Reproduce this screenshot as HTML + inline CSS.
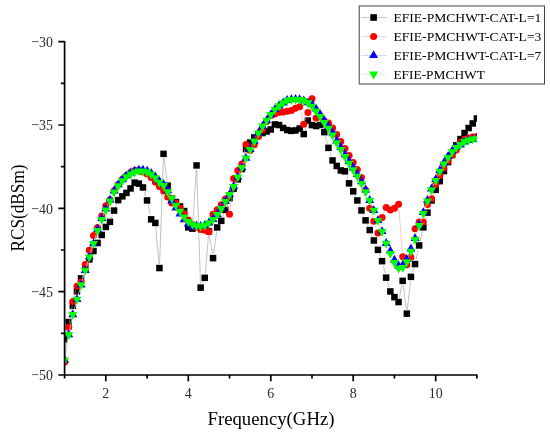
<!DOCTYPE html><html><head><meta charset="utf-8"><title>RCS</title><style>html,body{margin:0;padding:0;background:#fff}svg{display:block}</style></head><body><svg width="550" height="433" viewBox="0 0 550 433">
<rect width="550" height="433" fill="#fff"/>
<defs><clipPath id="c"><rect x="64.4" y="0" width="412.6" height="375.0"/></clipPath></defs>
<g clip-path="url(#c)">
<path fill="none" stroke="#999999" stroke-width="0.6" d="M65.6,335.2L67.7,326.1 M69.8,317.9L71.8,310.0 M74.0,301.9L75.8,295.4 M78.2,287.4L79.8,282.3 M82.7,274.4L83.6,272.4 M87.0,264.7L87.6,263.3 M91.2,255.7L91.6,254.8 M111.4,217.9L112.6,214.5 M115.6,206.7L116.7,204.1 M144.2,191.5L145.8,196.5 M148.0,204.6L150.3,215.2 M155.7,227.1L159.0,263.8 M159.6,263.8L163.4,158.0 M164.1,158.0L167.1,181.5 M168.9,189.7L170.5,194.7 M185.2,215.1L187.3,223.2 M192.7,224.5L196.3,169.7 M196.7,169.7L200.5,283.5 M202.3,283.8L203.2,281.8 M205.2,273.7L208.5,235.5 M209.5,235.5L212.4,253.9 M213.6,253.9L216.6,231.7 M222.8,216.9L223.9,213.8 M226.8,205.9L228.1,202.2 M231.2,194.3L232.0,192.6 M235.3,184.9L236.1,183.1 M239.3,175.4L240.3,172.9 M242.7,164.9L245.2,153.1 M305.0,130.0L306.6,124.6 M325.4,136.3L327.4,143.7 M329.8,151.8L331.3,156.4 M346.3,175.3L347.7,179.3 M354.9,195.1L355.6,196.6 M358.9,204.3L359.9,206.5 M363.1,214.3L364.0,216.4 M367.2,224.2L368.1,226.1 M371.2,233.9L372.3,236.5 M375.5,244.2L376.3,246.0 M379.4,253.7L380.6,257.2 M383.1,265.2L385.2,273.6 M387.4,281.7L389.1,287.5 M399.4,297.9L401.9,284.9 M403.2,285.0L406.3,309.4 M407.3,309.4L410.5,281.0 M412.2,272.8L413.8,268.0 M416.0,259.9L418.3,249.6 M420.1,241.4L422.4,231.4 M424.4,223.3L426.3,216.7 M428.8,208.7L430.2,204.4 M433.1,196.5L434.1,193.7 M437.5,186.0L438.0,185.0 M441.4,177.3L442.3,174.9 M445.7,167.2L446.3,165.8 M453.8,151.1L454.6,149.2"/><g fill="#000"><rect x="61.3" y="336.1" width="6.5" height="6.5"/><rect x="65.5" y="318.8" width="6.5" height="6.5"/><rect x="69.6" y="302.6" width="6.5" height="6.5"/><rect x="73.7" y="288.1" width="6.5" height="6.5"/><rect x="77.8" y="275.1" width="6.5" height="6.5"/><rect x="82.0" y="265.2" width="6.5" height="6.5"/><rect x="86.1" y="256.2" width="6.5" height="6.5"/><rect x="90.2" y="247.8" width="6.5" height="6.5"/><rect x="94.3" y="239.7" width="6.5" height="6.5"/><rect x="98.5" y="231.7" width="6.5" height="6.5"/><rect x="102.6" y="223.7" width="6.5" height="6.5"/><rect x="106.7" y="218.6" width="6.5" height="6.5"/><rect x="110.8" y="207.3" width="6.5" height="6.5"/><rect x="114.9" y="196.9" width="6.5" height="6.5"/><rect x="119.1" y="193.1" width="6.5" height="6.5"/><rect x="123.2" y="189.7" width="6.5" height="6.5"/><rect x="127.3" y="185.2" width="6.5" height="6.5"/><rect x="131.4" y="179.4" width="6.5" height="6.5"/><rect x="135.6" y="180.4" width="6.5" height="6.5"/><rect x="139.7" y="184.2" width="6.5" height="6.5"/><rect x="143.8" y="197.2" width="6.5" height="6.5"/><rect x="147.9" y="216.1" width="6.5" height="6.5"/><rect x="152.1" y="219.7" width="6.5" height="6.5"/><rect x="156.2" y="264.8" width="6.5" height="6.5"/><rect x="160.3" y="150.6" width="6.5" height="6.5"/><rect x="164.4" y="182.4" width="6.5" height="6.5"/><rect x="168.5" y="195.4" width="6.5" height="6.5"/><rect x="172.7" y="198.8" width="6.5" height="6.5"/><rect x="176.8" y="203.2" width="6.5" height="6.5"/><rect x="180.9" y="207.8" width="6.5" height="6.5"/><rect x="185.0" y="224.1" width="6.5" height="6.5"/><rect x="189.2" y="225.4" width="6.5" height="6.5"/><rect x="193.3" y="162.2" width="6.5" height="6.5"/><rect x="197.4" y="284.4" width="6.5" height="6.5"/><rect x="201.5" y="274.6" width="6.5" height="6.5"/><rect x="205.7" y="228.1" width="6.5" height="6.5"/><rect x="209.8" y="254.9" width="6.5" height="6.5"/><rect x="213.9" y="224.2" width="6.5" height="6.5"/><rect x="218.0" y="217.6" width="6.5" height="6.5"/><rect x="222.1" y="206.7" width="6.5" height="6.5"/><rect x="226.3" y="194.9" width="6.5" height="6.5"/><rect x="230.4" y="185.4" width="6.5" height="6.5"/><rect x="234.5" y="176.1" width="6.5" height="6.5"/><rect x="238.6" y="165.8" width="6.5" height="6.5"/><rect x="242.8" y="145.8" width="6.5" height="6.5"/><rect x="246.9" y="139.3" width="6.5" height="6.5"/><rect x="251.0" y="134.2" width="6.5" height="6.5"/><rect x="255.1" y="131.2" width="6.5" height="6.5"/><rect x="259.3" y="129.8" width="6.5" height="6.5"/><rect x="263.4" y="128.2" width="6.5" height="6.5"/><rect x="267.5" y="126.2" width="6.5" height="6.5"/><rect x="271.6" y="121.2" width="6.5" height="6.5"/><rect x="275.7" y="121.8" width="6.5" height="6.5"/><rect x="279.9" y="124.7" width="6.5" height="6.5"/><rect x="284.0" y="126.8" width="6.5" height="6.5"/><rect x="288.1" y="127.6" width="6.5" height="6.5"/><rect x="292.2" y="127.2" width="6.5" height="6.5"/><rect x="296.4" y="125.3" width="6.5" height="6.5"/><rect x="300.5" y="130.8" width="6.5" height="6.5"/><rect x="304.6" y="117.3" width="6.5" height="6.5"/><rect x="308.7" y="121.8" width="6.5" height="6.5"/><rect x="312.9" y="122.8" width="6.5" height="6.5"/><rect x="317.0" y="121.7" width="6.5" height="6.5"/><rect x="321.1" y="128.9" width="6.5" height="6.5"/><rect x="325.2" y="144.6" width="6.5" height="6.5"/><rect x="329.3" y="157.2" width="6.5" height="6.5"/><rect x="333.5" y="162.7" width="6.5" height="6.5"/><rect x="337.6" y="167.2" width="6.5" height="6.5"/><rect x="341.7" y="168.1" width="6.5" height="6.5"/><rect x="345.8" y="180.1" width="6.5" height="6.5"/><rect x="350.0" y="188.1" width="6.5" height="6.5"/><rect x="354.1" y="197.2" width="6.5" height="6.5"/><rect x="358.2" y="207.2" width="6.5" height="6.5"/><rect x="362.3" y="217.1" width="6.5" height="6.5"/><rect x="366.5" y="226.8" width="6.5" height="6.5"/><rect x="370.6" y="237.2" width="6.5" height="6.5"/><rect x="374.7" y="246.6" width="6.5" height="6.5"/><rect x="378.8" y="257.9" width="6.5" height="6.5"/><rect x="382.9" y="274.4" width="6.5" height="6.5"/><rect x="387.1" y="288.2" width="6.5" height="6.5"/><rect x="391.2" y="293.9" width="6.5" height="6.5"/><rect x="395.3" y="298.8" width="6.5" height="6.5"/><rect x="399.4" y="277.6" width="6.5" height="6.5"/><rect x="403.6" y="310.4" width="6.5" height="6.5"/><rect x="407.7" y="273.6" width="6.5" height="6.5"/><rect x="411.8" y="260.8" width="6.5" height="6.5"/><rect x="415.9" y="242.2" width="6.5" height="6.5"/><rect x="420.1" y="224.1" width="6.5" height="6.5"/><rect x="424.2" y="209.4" width="6.5" height="6.5"/><rect x="428.3" y="197.2" width="6.5" height="6.5"/><rect x="432.4" y="186.6" width="6.5" height="6.5"/><rect x="436.5" y="177.9" width="6.5" height="6.5"/><rect x="440.7" y="167.8" width="6.5" height="6.5"/><rect x="444.8" y="158.8" width="6.5" height="6.5"/><rect x="448.9" y="151.8" width="6.5" height="6.5"/><rect x="453.0" y="142.1" width="6.5" height="6.5"/><rect x="457.2" y="135.8" width="6.5" height="6.5"/><rect x="461.3" y="129.8" width="6.5" height="6.5"/><rect x="465.4" y="124.8" width="6.5" height="6.5"/><rect x="469.5" y="120.2" width="6.5" height="6.5"/><rect x="473.6" y="115.2" width="6.5" height="6.5"/></g>
<path fill="none" stroke="#ffa0a0" stroke-width="0.6" d="M65.1,357.8L68.2,331.4 M69.4,323.1L72.2,305.6 M73.9,297.4L75.9,290.4 M82.1,277.8L84.2,268.6 M86.4,260.5L88.2,254.2 M90.5,246.2L92.3,239.6 M99.0,223.5L100.3,220.0 M103.3,212.1L104.3,209.7 M111.7,195.9L112.3,194.5 M209.9,227.7L212.1,218.3 M226.5,203.0L228.4,210.2 M230.0,210.1L233.2,182.7 M242.8,159.9L245.1,148.5 M264.4,125.9L264.8,125.2 M300.6,110.9L302.8,120.2 M305.1,120.3L306.5,116.6 M309.1,108.6L310.8,102.8 M312.9,102.9L315.2,113.9 M362.8,181.5L364.3,186.0 M366.5,194.1L368.8,204.1 M371.0,212.2L372.6,217.3 M375.2,225.3L376.5,228.9 M379.0,228.8L381.0,221.7 M383.7,213.7L384.6,211.4 M398.9,208.5L402.4,252.5 M411.5,253.0L414.5,232.9 M424.3,217.9L426.5,208.6 M432.7,194.7L434.5,188.6 M437.4,180.8L438.1,179.3"/><g fill="#ff0000"><circle cx="64.6" cy="362.0" r="3.5"/><circle cx="68.7" cy="327.2" r="3.5"/><circle cx="72.8" cy="301.5" r="3.5"/><circle cx="77.0" cy="286.3" r="3.5"/><circle cx="81.1" cy="281.9" r="3.5"/><circle cx="85.2" cy="264.5" r="3.5"/><circle cx="89.3" cy="250.2" r="3.5"/><circle cx="93.5" cy="235.6" r="3.5"/><circle cx="97.6" cy="227.5" r="3.5"/><circle cx="101.7" cy="216.0" r="3.5"/><circle cx="105.8" cy="205.8" r="3.5"/><circle cx="110.0" cy="199.7" r="3.5"/><circle cx="114.1" cy="190.7" r="3.5"/><circle cx="118.2" cy="184.4" r="3.5"/><circle cx="122.3" cy="179.3" r="3.5"/><circle cx="126.4" cy="175.4" r="3.5"/><circle cx="130.6" cy="172.5" r="3.5"/><circle cx="134.7" cy="170.6" r="3.5"/><circle cx="138.8" cy="170.3" r="3.5"/><circle cx="142.9" cy="172.0" r="3.5"/><circle cx="147.1" cy="174.0" r="3.5"/><circle cx="151.2" cy="177.5" r="3.5"/><circle cx="155.3" cy="182.0" r="3.5"/><circle cx="159.4" cy="186.5" r="3.5"/><circle cx="163.6" cy="191.0" r="3.5"/><circle cx="167.7" cy="197.0" r="3.5"/><circle cx="171.8" cy="203.0" r="3.5"/><circle cx="175.9" cy="203.0" r="3.5"/><circle cx="180.0" cy="208.0" r="3.5"/><circle cx="184.2" cy="213.5" r="3.5"/><circle cx="188.3" cy="220.0" r="3.5"/><circle cx="192.4" cy="224.5" r="3.5"/><circle cx="196.5" cy="227.5" r="3.5"/><circle cx="200.7" cy="229.6" r="3.5"/><circle cx="204.8" cy="230.2" r="3.5"/><circle cx="208.9" cy="231.8" r="3.5"/><circle cx="213.0" cy="214.2" r="3.5"/><circle cx="217.2" cy="209.8" r="3.5"/><circle cx="221.3" cy="204.7" r="3.5"/><circle cx="225.4" cy="198.9" r="3.5"/><circle cx="229.5" cy="214.3" r="3.5"/><circle cx="233.6" cy="178.5" r="3.5"/><circle cx="237.8" cy="170.5" r="3.5"/><circle cx="241.9" cy="164.0" r="3.5"/><circle cx="246.0" cy="144.4" r="3.5"/><circle cx="250.1" cy="150.5" r="3.5"/><circle cx="254.3" cy="144.7" r="3.5"/><circle cx="258.4" cy="136.5" r="3.5"/><circle cx="262.5" cy="129.7" r="3.5"/><circle cx="266.6" cy="121.4" r="3.5"/><circle cx="270.8" cy="115.5" r="3.5"/><circle cx="274.9" cy="114.1" r="3.5"/><circle cx="279.0" cy="112.6" r="3.5"/><circle cx="283.1" cy="111.9" r="3.5"/><circle cx="287.2" cy="111.2" r="3.5"/><circle cx="291.4" cy="110.5" r="3.5"/><circle cx="295.5" cy="108.3" r="3.5"/><circle cx="299.6" cy="106.8" r="3.5"/><circle cx="303.7" cy="124.3" r="3.5"/><circle cx="307.9" cy="112.6" r="3.5"/><circle cx="312.0" cy="98.8" r="3.5"/><circle cx="316.1" cy="118.0" r="3.5"/><circle cx="320.2" cy="116.0" r="3.5"/><circle cx="324.3" cy="121.0" r="3.5"/><circle cx="328.5" cy="123.0" r="3.5"/><circle cx="332.6" cy="128.0" r="3.5"/><circle cx="336.7" cy="134.5" r="3.5"/><circle cx="340.8" cy="141.5" r="3.5"/><circle cx="345.0" cy="148.5" r="3.5"/><circle cx="349.1" cy="155.5" r="3.5"/><circle cx="353.2" cy="162.5" r="3.5"/><circle cx="357.3" cy="169.5" r="3.5"/><circle cx="361.5" cy="177.5" r="3.5"/><circle cx="365.6" cy="190.0" r="3.5"/><circle cx="369.7" cy="208.2" r="3.5"/><circle cx="373.8" cy="221.3" r="3.5"/><circle cx="377.9" cy="232.9" r="3.5"/><circle cx="382.1" cy="217.6" r="3.5"/><circle cx="386.2" cy="207.5" r="3.5"/><circle cx="390.3" cy="210.1" r="3.5"/><circle cx="394.4" cy="208.2" r="3.5"/><circle cx="398.6" cy="204.3" r="3.5"/><circle cx="402.7" cy="256.7" r="3.5"/><circle cx="406.8" cy="264.7" r="3.5"/><circle cx="410.9" cy="257.2" r="3.5"/><circle cx="415.1" cy="228.7" r="3.5"/><circle cx="419.2" cy="222.0" r="3.5"/><circle cx="423.3" cy="222.0" r="3.5"/><circle cx="427.4" cy="204.5" r="3.5"/><circle cx="431.5" cy="198.7" r="3.5"/><circle cx="435.7" cy="184.6" r="3.5"/><circle cx="439.8" cy="175.5" r="3.5"/><circle cx="443.9" cy="168.0" r="3.5"/><circle cx="448.0" cy="161.0" r="3.5"/><circle cx="452.2" cy="155.0" r="3.5"/><circle cx="456.3" cy="150.0" r="3.5"/><circle cx="460.4" cy="142.5" r="3.5"/><circle cx="464.5" cy="139.5" r="3.5"/><circle cx="468.7" cy="138.0" r="3.5"/><circle cx="472.8" cy="137.0" r="3.5"/><circle cx="476.9" cy="136.4" r="3.5"/></g>
<path fill="none" stroke="#b0c4ff" stroke-width="0.5" d="M65.3,355.9L68.0,338.8 M69.6,330.6L72.0,318.7 M73.9,310.5L75.9,303.5 M78.1,295.4L80.0,288.8 M82.2,280.8L84.1,274.3 M86.5,266.3L88.1,261.0 M90.6,253.0L92.2,247.6 M94.6,239.6L96.4,233.3 M99.1,225.4L100.2,222.3 M103.4,214.6L104.1,212.8 M107.6,205.2L108.2,203.8 M111.7,196.2L112.3,194.8 M169.2,194.6L170.2,197.0 M235.3,182.7L236.1,180.9 M239.4,173.2L240.2,171.5 M243.6,163.8L244.3,162.0 M247.8,154.4L248.3,153.3 M252.0,145.7L252.4,145.0 M367.1,193.7L368.2,196.4 M371.3,204.2L372.2,206.5 M375.4,214.3L376.4,216.6 M379.4,224.4L380.6,227.6 M383.5,235.5L384.8,239.3 M392.1,254.8L392.7,256.2 M408.4,255.4L409.4,252.8 M412.5,245.0L413.5,242.4 M416.3,234.5L418.0,228.7 M420.5,220.7L422.0,216.5 M424.6,208.5L426.1,204.1 M428.9,196.2L430.1,192.7 M433.2,185.0L434.0,183.3 M437.4,175.7L438.1,174.2"/><g fill="#0000ff"><path d="M64.6,354.8 L69.1,362.6 L60.1,362.6Z M68.7,329.5 L73.2,337.3 L64.2,337.3Z M72.8,309.4 L77.3,317.2 L68.3,317.2Z M77.0,294.2 L81.5,302.0 L72.5,302.0Z M81.1,279.6 L85.6,287.4 L76.6,287.4Z M85.2,265.1 L89.7,272.9 L80.7,272.9Z M89.3,251.8 L93.8,259.6 L84.8,259.6Z M93.5,238.4 L98.0,246.2 L89.0,246.2Z M97.6,224.1 L102.1,231.9 L93.1,231.9Z M101.7,213.2 L106.2,221.0 L97.2,221.0Z M105.8,203.8 L110.3,211.6 L101.3,211.6Z M110.0,194.8 L114.5,202.6 L105.5,202.6Z M114.1,185.8 L118.6,193.6 L109.6,193.6Z M118.2,179.5 L122.7,187.3 L113.7,187.3Z M122.3,174.4 L126.8,182.2 L117.8,182.2Z M126.4,170.5 L130.9,178.3 L121.9,178.3Z M130.6,167.6 L135.1,175.4 L126.1,175.4Z M134.7,165.7 L139.2,173.5 L130.2,173.5Z M138.8,164.7 L143.3,172.5 L134.3,172.5Z M142.9,164.7 L147.4,172.5 L138.4,172.5Z M147.1,165.7 L151.6,173.5 L142.6,173.5Z M151.2,167.9 L155.7,175.7 L146.7,175.7Z M155.3,171.5 L159.8,179.3 L150.8,179.3Z M159.4,175.9 L163.9,183.7 L154.9,183.7Z M163.6,179.1 L168.1,186.9 L159.1,186.9Z M167.7,185.5 L172.2,193.3 L163.2,193.3Z M171.8,195.7 L176.3,203.5 L167.3,203.5Z M175.9,202.7 L180.4,210.5 L171.4,210.5Z M180.0,208.6 L184.5,216.4 L175.5,216.4Z M184.2,214.4 L188.7,222.2 L179.7,222.2Z M188.3,218.8 L192.8,226.6 L183.8,226.6Z M192.4,221.7 L196.9,229.5 L187.9,229.5Z M196.5,220.6 L201.0,228.4 L192.0,228.4Z M200.7,221.1 L205.2,228.9 L196.2,228.9Z M204.8,220.2 L209.3,228.0 L200.3,228.0Z M208.9,217.7 L213.4,225.5 L204.4,225.5Z M213.0,214.3 L217.5,222.1 L208.5,222.1Z M217.2,209.3 L221.7,217.1 L212.7,217.1Z M221.3,203.3 L225.8,211.1 L216.8,211.1Z M225.4,196.3 L229.9,204.1 L220.9,204.1Z M229.5,189.3 L234.0,197.1 L225.0,197.1Z M233.6,181.3 L238.1,189.1 L229.1,189.1Z M237.8,171.9 L242.3,179.7 L233.3,179.7Z M241.9,162.4 L246.4,170.2 L237.4,170.2Z M246.0,153.0 L250.5,160.8 L241.5,160.8Z M250.1,144.3 L254.6,152.1 L245.6,152.1Z M254.3,136.0 L258.8,143.8 L249.8,143.8Z M258.4,127.8 L262.9,135.6 L253.9,135.6Z M262.5,121.0 L267.0,128.8 L258.0,128.8Z M266.6,115.2 L271.1,123.0 L262.1,123.0Z M270.8,109.4 L275.2,117.2 L266.2,117.2Z M274.9,104.3 L279.4,112.1 L270.4,112.1Z M279.0,100.6 L283.5,108.4 L274.5,108.4Z M283.1,97.7 L287.6,105.5 L278.6,105.5Z M287.2,95.1 L291.7,102.9 L282.7,102.9Z M291.4,94.3 L295.9,102.1 L286.9,102.1Z M295.5,94.1 L300.0,101.9 L291.0,101.9Z M299.6,94.3 L304.1,102.1 L295.1,102.1Z M303.7,95.5 L308.2,103.3 L299.2,103.3Z M307.9,97.5 L312.4,105.3 L303.4,105.3Z M312.0,99.1 L316.5,106.9 L307.5,106.9Z M316.1,103.8 L320.6,111.6 L311.6,111.6Z M320.2,109.3 L324.7,117.1 L315.7,117.1Z M324.3,115.3 L328.8,123.1 L319.8,123.1Z M328.5,121.2 L333.0,129.0 L324.0,129.0Z M332.6,127.8 L337.1,135.6 L328.1,135.6Z M336.7,135.6 L341.2,143.4 L332.2,143.4Z M340.8,142.3 L345.3,150.1 L336.3,150.1Z M345.0,149.5 L349.5,157.3 L340.5,157.3Z M349.1,156.1 L353.6,163.9 L344.6,163.9Z M353.2,162.6 L357.7,170.4 L348.7,170.4Z M357.3,169.2 L361.8,177.0 L352.8,177.0Z M361.5,176.4 L366.0,184.2 L357.0,184.2Z M365.6,184.6 L370.1,192.4 L361.1,192.4Z M369.7,195.1 L374.2,202.9 L365.2,202.9Z M373.8,205.2 L378.3,213.0 L369.3,213.0Z M377.9,215.3 L382.4,223.1 L373.4,223.1Z M382.1,226.3 L386.6,234.1 L377.6,234.1Z M386.2,238.1 L390.7,245.9 L381.7,245.9Z M390.3,245.8 L394.8,253.6 L385.8,253.6Z M394.4,254.8 L398.9,262.6 L389.9,262.6Z M398.6,260.7 L403.1,268.5 L394.1,268.5Z M402.7,259.9 L407.2,267.7 L398.2,267.7Z M406.8,254.1 L411.3,261.9 L402.3,261.9Z M410.9,243.7 L415.4,251.5 L406.4,251.5Z M415.1,233.3 L419.6,241.1 L410.6,241.1Z M419.2,219.5 L423.7,227.3 L414.7,227.3Z M423.3,207.3 L427.8,215.1 L418.8,215.1Z M427.4,194.9 L431.9,202.7 L422.9,202.7Z M431.5,183.6 L436.0,191.4 L427.0,191.4Z M435.7,174.3 L440.2,182.1 L431.2,182.1Z M439.8,165.2 L444.3,173.0 L435.3,173.0Z M443.9,157.6 L448.4,165.4 L439.4,165.4Z M448.0,151.3 L452.5,159.1 L443.5,159.1Z M452.2,145.7 L456.7,153.5 L447.7,153.5Z M456.3,141.4 L460.8,149.2 L451.8,149.2Z M460.4,139.8 L464.9,147.6 L455.9,147.6Z M464.5,136.8 L469.0,144.6 L460.0,144.6Z M468.7,135.3 L473.2,143.1 L464.2,143.1Z M472.8,134.3 L477.3,142.1 L468.3,142.1Z M476.9,133.7 L481.4,141.5 L472.4,141.5Z"/></g>
<path fill="none" stroke="#b0ffb0" stroke-width="0.5" d="M65.3,355.9L68.0,338.8 M69.6,330.6L72.0,318.7 M73.9,310.5L75.9,303.5 M78.1,295.4L80.0,288.8 M82.2,280.8L84.1,274.3 M86.5,266.3L88.1,261.0 M90.6,253.0L92.2,247.6 M94.7,239.6L96.3,234.5 M99.1,226.6L100.2,223.5 M103.4,215.8L104.1,214.0 M107.6,206.4L108.2,205.0 M111.7,197.4L112.3,196.0 M235.3,182.7L236.1,180.9 M239.4,173.2L240.2,171.5 M243.6,163.8L244.3,162.0 M247.8,154.4L248.3,153.3 M252.0,145.7L252.4,145.0 M367.4,195.6L367.9,196.5 M371.3,204.2L372.2,206.5 M375.4,214.3L376.4,216.6 M379.4,224.4L380.6,227.6 M383.5,235.5L384.8,239.3 M387.8,247.2L388.7,249.6 M392.1,257.3L392.7,258.7 M408.4,257.9L409.4,255.3 M412.3,247.4L413.7,243.5 M416.3,235.5L418.0,229.7 M420.5,221.7L422.0,217.5 M424.6,209.5L426.1,205.1 M428.9,197.2L430.1,193.7 M433.2,186.0L434.0,184.3 M437.4,176.7L438.1,175.2"/><g fill="#00ff00"><path d="M64.6,365.2 L69.1,357.4 L60.1,357.4Z M68.7,339.9 L73.2,332.1 L64.2,332.1Z M72.8,319.8 L77.3,312.0 L68.3,312.0Z M77.0,304.6 L81.5,296.8 L72.5,296.8Z M81.1,290.0 L85.6,282.2 L76.6,282.2Z M85.2,275.5 L89.7,267.7 L80.7,267.7Z M89.3,262.2 L93.8,254.4 L84.8,254.4Z M93.5,248.8 L98.0,241.0 L89.0,241.0Z M97.6,235.7 L102.1,227.9 L93.1,227.9Z M101.7,224.8 L106.2,217.0 L97.2,217.0Z M105.8,215.4 L110.3,207.6 L101.3,207.6Z M110.0,206.4 L114.5,198.6 L105.5,198.6Z M114.1,197.4 L118.6,189.6 L109.6,189.6Z M118.2,191.1 L122.7,183.3 L113.7,183.3Z M122.3,186.0 L126.8,178.2 L117.8,178.2Z M126.4,182.1 L130.9,174.3 L121.9,174.3Z M130.6,179.2 L135.1,171.4 L126.1,171.4Z M134.7,177.3 L139.2,169.5 L130.2,169.5Z M138.8,176.3 L143.3,168.5 L134.3,168.5Z M142.9,176.3 L147.4,168.5 L138.4,168.5Z M147.1,177.3 L151.6,169.5 L142.6,169.5Z M151.2,179.5 L155.7,171.7 L146.7,171.7Z M155.3,183.1 L159.8,175.3 L150.8,175.3Z M159.4,187.5 L163.9,179.7 L154.9,179.7Z M163.6,190.7 L168.1,182.9 L159.1,182.9Z M167.7,197.1 L172.2,189.3 L163.2,189.3Z M171.8,203.6 L176.3,195.8 L167.3,195.8Z M175.9,210.6 L180.4,202.8 L171.4,202.8Z M180.0,216.5 L184.5,208.7 L175.5,208.7Z M184.2,222.3 L188.7,214.5 L179.7,214.5Z M188.3,226.7 L192.8,218.9 L183.8,218.9Z M192.4,229.6 L196.9,221.8 L187.9,221.8Z M196.5,231.0 L201.0,223.2 L192.0,223.2Z M200.7,231.5 L205.2,223.7 L196.2,223.7Z M204.8,230.6 L209.3,222.8 L200.3,222.8Z M208.9,228.1 L213.4,220.3 L204.4,220.3Z M213.0,224.7 L217.5,216.9 L208.5,216.9Z M217.2,219.7 L221.7,211.9 L212.7,211.9Z M221.3,213.7 L225.8,205.9 L216.8,205.9Z M225.4,206.7 L229.9,198.9 L220.9,198.9Z M229.5,199.7 L234.0,191.9 L225.0,191.9Z M233.6,191.7 L238.1,183.9 L229.1,183.9Z M237.8,182.3 L242.3,174.5 L233.3,174.5Z M241.9,172.8 L246.4,165.0 L237.4,165.0Z M246.0,163.4 L250.5,155.6 L241.5,155.6Z M250.1,154.7 L254.6,146.9 L245.6,146.9Z M254.3,146.4 L258.8,138.6 L249.8,138.6Z M258.4,138.2 L262.9,130.4 L253.9,130.4Z M262.5,131.4 L267.0,123.6 L258.0,123.6Z M266.6,125.6 L271.1,117.8 L262.1,117.8Z M270.8,119.8 L275.2,112.0 L266.2,112.0Z M274.9,114.7 L279.4,106.9 L270.4,106.9Z M279.0,111.0 L283.5,103.2 L274.5,103.2Z M283.1,108.1 L287.6,100.3 L278.6,100.3Z M287.2,105.5 L291.7,97.7 L282.7,97.7Z M291.4,104.7 L295.9,96.9 L286.9,96.9Z M295.5,104.5 L300.0,96.7 L291.0,96.7Z M299.6,104.7 L304.1,96.9 L295.1,96.9Z M303.7,105.9 L308.2,98.1 L299.2,98.1Z M307.9,107.9 L312.4,100.1 L303.4,100.1Z M312.0,111.5 L316.5,103.7 L307.5,103.7Z M316.1,116.2 L320.6,108.4 L311.6,108.4Z M320.2,121.7 L324.7,113.9 L315.7,113.9Z M324.3,127.7 L328.8,119.9 L319.8,119.9Z M328.5,133.6 L333.0,125.8 L324.0,125.8Z M332.6,140.2 L337.1,132.4 L328.1,132.4Z M336.7,148.0 L341.2,140.2 L332.2,140.2Z M340.8,154.7 L345.3,146.9 L336.3,146.9Z M345.0,161.9 L349.5,154.1 L340.5,154.1Z M349.1,168.5 L353.6,160.7 L344.6,160.7Z M353.2,175.0 L357.7,167.2 L348.7,167.2Z M357.3,181.6 L361.8,173.8 L352.8,173.8Z M361.5,188.8 L366.0,181.0 L357.0,181.0Z M365.6,197.0 L370.1,189.2 L361.1,189.2Z M369.7,205.5 L374.2,197.7 L365.2,197.7Z M373.8,215.6 L378.3,207.8 L369.3,207.8Z M377.9,225.7 L382.4,217.9 L373.4,217.9Z M382.1,236.7 L386.6,228.9 L377.6,228.9Z M386.2,248.5 L390.7,240.7 L381.7,240.7Z M390.3,258.7 L394.8,250.9 L385.8,250.9Z M394.4,267.7 L398.9,259.9 L389.9,259.9Z M398.6,273.6 L403.1,265.8 L394.1,265.8Z M402.7,272.8 L407.2,265.0 L398.2,265.0Z M406.8,267.0 L411.3,259.2 L402.3,259.2Z M410.9,256.6 L415.4,248.8 L406.4,248.8Z M415.1,244.7 L419.6,236.9 L410.6,236.9Z M419.2,230.9 L423.7,223.1 L414.7,223.1Z M423.3,218.7 L427.8,210.9 L418.8,210.9Z M427.4,206.3 L431.9,198.5 L422.9,198.5Z M431.5,195.0 L436.0,187.2 L427.0,187.2Z M435.7,185.7 L440.2,177.9 L431.2,177.9Z M439.8,176.6 L444.3,168.8 L435.3,168.8Z M443.9,169.0 L448.4,161.2 L439.4,161.2Z M448.0,162.7 L452.5,154.9 L443.5,154.9Z M452.2,157.1 L456.7,149.3 L447.7,149.3Z M456.3,152.8 L460.8,145.0 L451.8,145.0Z M460.4,149.7 L464.9,141.9 L455.9,141.9Z M464.5,146.7 L469.0,138.9 L460.0,138.9Z M468.7,145.2 L473.2,137.4 L464.2,137.4Z M472.8,144.2 L477.3,136.4 L468.3,136.4Z M476.9,143.6 L481.4,135.8 L472.4,135.8Z"/></g>
</g>
<path d="M64.6,40.9 V375.0 H477.7 M64.6,41.7 H58.3 M64.6,83.4 H60.9 M64.6,125.0 H58.3 M64.6,166.7 H60.9 M64.6,208.3 H58.3 M64.6,250.0 H60.9 M64.6,291.7 H58.3 M64.6,333.3 H60.9 M64.6,375.0 H58.3 M64.6,375.0 V378.5 M105.8,375.0 V381.3 M147.1,375.0 V378.5 M188.3,375.0 V381.3 M229.5,375.0 V378.5 M270.8,375.0 V381.3 M312.0,375.0 V378.5 M353.2,375.0 V381.3 M394.4,375.0 V378.5 M435.7,375.0 V381.3 M476.9,375.0 V378.5" fill="none" stroke="#000" stroke-width="1.7"/>
<g font-family="'Liberation Serif', serif" font-size="13.9" fill="#2a2a2a">
<text transform="translate(53,47.0) scale(1,1.1)" text-anchor="end">−30</text>
<text transform="translate(53,130.3) scale(1,1.1)" text-anchor="end">−35</text>
<text transform="translate(53,213.6) scale(1,1.1)" text-anchor="end">−40</text>
<text transform="translate(53,297.0) scale(1,1.1)" text-anchor="end">−45</text>
<text transform="translate(53,380.3) scale(1,1.1)" text-anchor="end">−50</text>
<text transform="translate(105.8,398.4) scale(1,1.1)" text-anchor="middle">2</text>
<text transform="translate(188.3,398.4) scale(1,1.1)" text-anchor="middle">4</text>
<text transform="translate(270.8,398.4) scale(1,1.1)" text-anchor="middle">6</text>
<text transform="translate(353.2,398.4) scale(1,1.1)" text-anchor="middle">8</text>
<text transform="translate(435.7,398.4) scale(1,1.1)" text-anchor="middle">10</text>
</g>
<g font-family="'Liberation Serif', serif" font-size="18" fill="#000">
<text x="271" y="425" text-anchor="middle" textLength="127" lengthAdjust="spacingAndGlyphs">Frequency(GHz)</text>
<text transform="translate(24.4,208) rotate(-90)" text-anchor="middle" textLength="87" lengthAdjust="spacingAndGlyphs">RCS(dBSm)</text>
</g>
<rect x="359.2" y="6" width="185.3" height="78" fill="#fff" stroke="#444" stroke-width="1"/>
<g font-family="'Liberation Serif', serif" font-size="13.3" fill="#000">
<path d="M361.4,17.5 H386.8" stroke="#9a9a9a" stroke-width="0.55"/>
<rect x="370.3" y="14.2" width="6.6" height="6.6" fill="#000"/>
<text x="393.4" y="21.9" textLength="148" lengthAdjust="spacingAndGlyphs">EFIE-PMCHWT-CAT-L=1</text>
<path d="M361.4,36.6 H386.8" stroke="#ff9c9c" stroke-width="0.55"/>
<circle cx="373.6" cy="36.6" r="3.5" fill="#f00"/>
<text x="393.4" y="41.0" textLength="148" lengthAdjust="spacingAndGlyphs">EFIE-PMCHWT-CAT-L=3</text>
<path d="M361.4,55.5 H386.8" stroke="#9cb4ff" stroke-width="0.55"/>
<path d="M373.6,50.3 L378.1,58.1 L369.1,58.1Z" fill="#00f"/>
<text x="393.4" y="59.9" textLength="148" lengthAdjust="spacingAndGlyphs">EFIE-PMCHWT-CAT-L=7</text>
<path d="M361.4,74.2 H386.8" stroke="#9cff9c" stroke-width="0.55"/>
<path d="M373.6,79.4 L378.1,71.6 L369.1,71.6Z" fill="#0f0"/>
<text x="393.4" y="78.6" textLength="91.5" lengthAdjust="spacingAndGlyphs">EFIE-PMCHWT</text>
</g>
</svg></body></html>
